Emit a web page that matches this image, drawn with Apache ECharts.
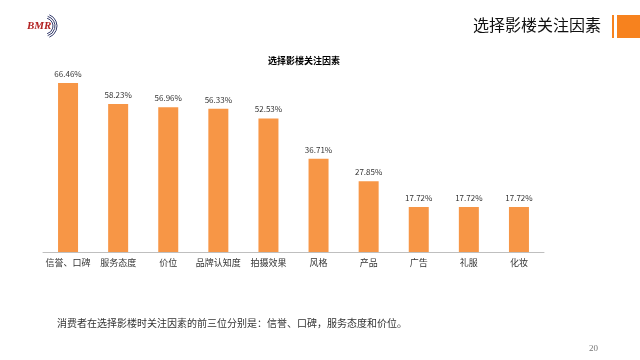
<!DOCTYPE html>
<html><head><meta charset="utf-8">
<script src="https://cdn.jsdelivr.net/npm/echarts@6/dist/echarts.min.js"></script>
<style>html,body{margin:0;padding:0;background:#fff}#c{width:640px;height:360px}</style>
</head><body><div id="c"></div>
<script>
const categories = ['信誉、口碑','服务态度','价位','品牌认知度','拍摄效果','风格','产品','广告','礼服','化妆'];
const values = [66.46,58.23,56.96,56.33,52.53,36.71,27.85,17.72,17.72,17.72];
const pageTitle = '选择影楼关注因素';
const chartTitle = '选择影楼关注因素';
const footnote = '消费者在选择影楼时关注因素的前三位分别是：信誉、口碑，服务态度和价位。';
const pageNo = '20';
const font = '"Noto Sans CJK SC", "Noto Sans", sans-serif';

const chart = echarts.init(document.getElementById('c'));
chart.setOption({
  animation: false,
  title: {text: chartTitle, left: 299, top: 51, textAlign: 'center',
    textStyle: {fontSize: 9, fontWeight: 'bold', color: '#000', fontFamily: font}},
  grid: {left: 43, right: 96, top: 74, bottom: 108},
  xAxis: {type: 'category', data: categories,
    axisLine: {lineStyle: {color: '#bfbfbf'}}, axisTick: {show: false},
    axisLabel: {color: '#333', fontSize: 9, fontFamily: font, margin: 6, interval: 0}},
  yAxis: {type: 'value', min: 0, max: 70, show: false, splitLine: {show: false}},
  series: [{type: 'bar', data: values, barWidth: 20,
    itemStyle: {color: '#F79646'},
    label: {show: true, position: 'top', distance: 5, color: '#333', fontSize: 8,
      fontFamily: font, formatter: p => p.value.toFixed(2) + '%'}}],
  graphic: [
    {type: 'text', left: 473, top: 17, style: {text: pageTitle, fontSize: 16, fill: '#111', fontFamily: font}},
    {type: 'rect', shape: {x: 612, y: 15, width: 2, height: 23}, style: {fill: '#F7821E'}},
    {type: 'rect', shape: {x: 617, y: 15, width: 23, height: 23}, style: {fill: '#F7821E'}},
    {type: 'text', left: 27, top: 21, style: {text: 'BMR', fontSize: 11, fontWeight: 'bold', fontStyle: 'italic', fill: '#B22222', fontFamily: '"Liberation Serif", serif'}},
    {type: 'arc', shape: {cx: 45, cy: 26, r: 8, startAngle: -1.3, endAngle: 1.3}, style: {stroke: '#333a6b', lineWidth: 1, fill: null}},
    {type: 'arc', shape: {cx: 45, cy: 26, r: 10, startAngle: -1.3, endAngle: 1.3}, style: {stroke: '#333a6b', lineWidth: 1, fill: null}},
    {type: 'arc', shape: {cx: 45, cy: 26, r: 12, startAngle: -1.2, endAngle: 1.2}, style: {stroke: '#333a6b', lineWidth: 1, fill: null}},
    {type: 'text', left: 57, top: 318, style: {text: footnote, fontSize: 10, fill: '#333', fontFamily: font}},
    {type: 'text', left: 589, top: 344, style: {text: pageNo, fontSize: 9, fill: '#777', fontFamily: '"Liberation Serif", serif'}}
  ]
});
</script></body></html>
